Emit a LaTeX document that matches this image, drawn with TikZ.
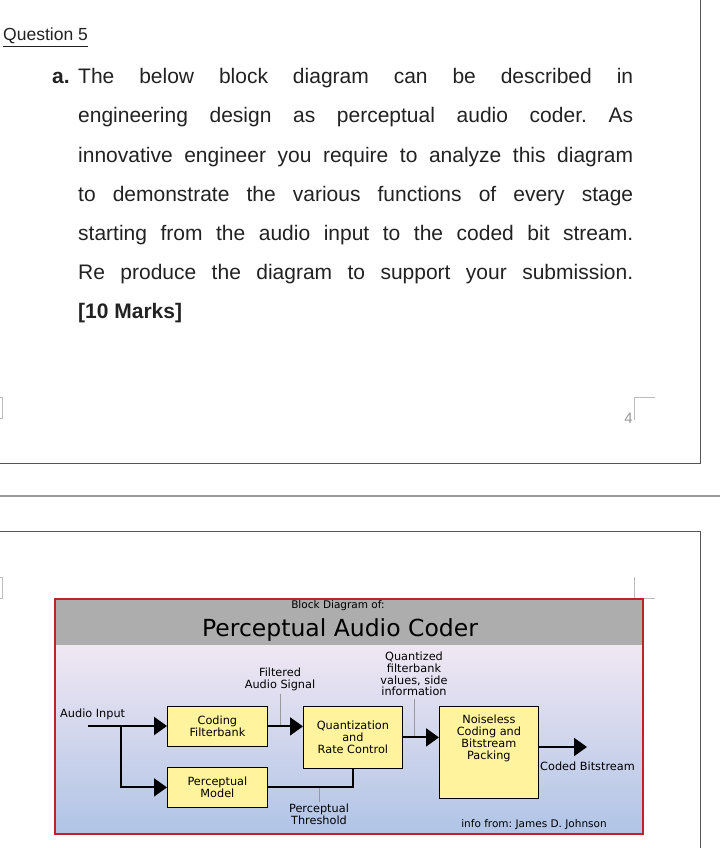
\documentclass[tikz,border=0pt]{standalone}
\usepackage{fontspec}
\setmainfont{Liberation Sans}
\newfontfamily\diagfont{DejaVu Sans}
\usetikzlibrary{arrows.meta}
\frenchspacing

\definecolor{pagegray}{HTML}{555555}
\definecolor{rulegray}{HTML}{999999}
\definecolor{markgray}{HTML}{BBBBBB}
\definecolor{framered}{HTML}{C4202C}
\definecolor{headgray}{HTML}{ADADAD}
\definecolor{bgtop}{HTML}{F0E7F3}
\definecolor{bgmid}{HTML}{D9DBF0}
\definecolor{bgbot}{HTML}{B0C4E6}
\definecolor{blockyellow}{HTML}{FFF39E}
\definecolor{inkgray}{HTML}{222222}

\tikzset{
	block/.style={draw=black, line width=0.8pt, fill=blockyellow, inner sep=0pt, align=center, font=\diagfont\fontsize{11.3}{11.8}\selectfont},
	signal/.style={line width=2pt, -{Triangle[length=13pt,width=18pt]}},
	wire/.style={line width=2pt},
	tick/.style={draw=rulegray, line width=0.8pt},
	tag/.style={align=center, inner sep=0pt, font=\diagfont\fontsize{11.3}{11.8}\selectfont},
	bodyline/.style={anchor=base west, inner sep=0pt, text=inkgray, font=\fontsize{21}{25}\selectfont},
}

\begin{document}
\begin{tikzpicture}[x=1pt, y=-1pt]
	\useasboundingbox (0,0) rectangle (720,848);
	\fill[white] (0,0) rectangle (720,848);

	% question page
	\draw[pagegray, line width=1pt] (0,463) -- (700,463) -- (700,0);
	\draw[markgray, line width=0.8pt] (0,397) -- (2,397) -- (2,418) -- (0,418);
	\draw[markgray, line width=0.8pt] (634,420) -- (634,397) -- (655,397);
	\node[anchor=base east, inner sep=0pt, text=rulegray, font=\fontsize{15}{15}\selectfont] (pagenum) at (633,423) {4};

	\node[anchor=base west, inner sep=0pt, text=inkgray, font=\fontsize{17.5}{20}\selectfont] (qtitle) at (3,41) {\underline{Question 5}};

	\node[bodyline, font=\bfseries\fontsize{21}{25}\selectfont] (item) at (52,84) {a.};
	\node[bodyline] (line1) at (78,84) {\makebox[555pt][s]{The below block diagram can be described in}};
	\node[bodyline] (line2) at (78,123) {\makebox[555pt][s]{engineering design as perceptual audio coder. As}};
	\node[bodyline] (line3) at (78,162) {\makebox[555pt][s]{innovative engineer you require to analyze this diagram}};
	\node[bodyline] (line4) at (78,201) {\makebox[555pt][s]{to demonstrate the various functions of every stage}};
	\node[bodyline] (line5) at (78,240) {\makebox[555pt][s]{starting from the audio input to the coded bit stream.}};
	\node[bodyline] (line6) at (78,279) {\makebox[555pt][s]{Re produce the diagram to support your submission.}};
	\node[bodyline, font=\bfseries\fontsize{21}{25}\selectfont] (marks) at (78,318) {[10 Marks]};

	% separator and answer page
	\draw[rulegray, line width=1.5pt] (0,496) -- (720,496);
	\draw[pagegray, line width=1pt] (0,531) -- (700,531) -- (700,848);
	\draw[markgray, line width=0.8pt] (0,577) -- (2,577) -- (2,598) -- (0,598);
	\draw[markgray, line width=0.8pt] (634,577) -- (634,598) -- (655,598);

	% diagram
	\shade[top color=bgtop, middle color=bgmid, bottom color=bgbot] (55,645) rectangle (643,834);
	\fill[headgray] (55,599) rectangle (643,645);
	\draw[framered, line width=2.5pt] (55,599) rectangle (643,834);

	\node[inner sep=0pt, font=\diagfont\fontsize{10.5}{12}\selectfont] (subtitle) at (338,606) {Block Diagram of:};
	\node[inner sep=0pt, font=\diagfont\fontsize{23.5}{26}\selectfont] (title) at (340,630) {Perceptual Audio Coder};

	\node[block, minimum width=100pt, minimum height=40pt, anchor=north west] (filterbank) at (167,706) {Coding\\Filterbank};
	\node[block, minimum width=99pt, minimum height=62pt, anchor=north west] (quant) at (303,706) {Quantization\\and\\Rate Control};
	\node[block, minimum width=99pt, minimum height=92pt, anchor=north west] (packing) at (439,706) {};
	\node[tag, anchor=north] (packtext) at ([yshift=-9pt]packing.north) {Noiseless\\Coding and\\Bitstream\\Packing};
	\node[block, minimum width=100pt, minimum height=40pt, anchor=north west] (percmodel) at (167,767) {Perceptual\\Model};

	\node[tag, anchor=west] (audioin) at (60,714) {Audio Input};
	\node[tag] (filtered) at (280,679) {Filtered\\Audio Signal};
	\node[tag] (quantized) at (414,674) {Quantized\\filterbank\\values, side\\information};
	\node[tag] (threshold) at (319,814) {Perceptual\\Threshold};
	\node[tag, anchor=west] (coded) at (540,766) {Coded Bitstream};
	\node[tag, font=\diagfont\fontsize{10.5}{12}\selectfont] (credit) at (534,825) {info from: James D. Johnson};

	\draw[tick, shorten <=3pt] (filtered.south) -- (filtered.south |- filterbank.east);
	\draw[tick, shorten <=3pt] (quantized.south) -- (quantized.south |- quant.east);
	\draw[tick, shorten <=2pt] (threshold.north) -- (threshold.north |- percmodel.east);

	\coordinate (src) at (88,726);
	\coordinate (fork) at (121,726);
	\coordinate (sink) at (587,747);
	\draw[signal] (src) -- (src -| filterbank.west);
	\draw[signal] (fork) |- (percmodel.west);
	\draw[signal] (filterbank.east) -- (filterbank.east -| quant.west);
	\draw[signal] (quant.east) -- (quant.east -| packing.west);
	\draw[signal] (sink -| packing.east) -- (sink);
	\draw[wire] (percmodel.east) -| (quant.south);
\end{tikzpicture}
\end{document}
